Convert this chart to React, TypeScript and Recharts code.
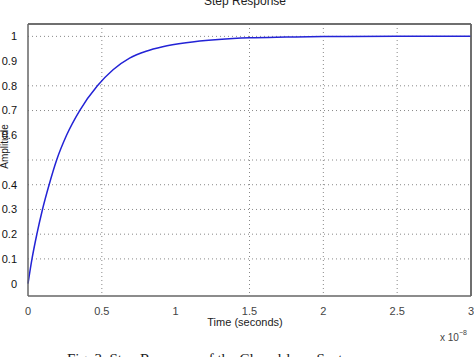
import { LineChart, Line, XAxis, YAxis, CartesianGrid, ReferenceLine } from "recharts";

const times = [0, 0.027, 0.06, 0.098, 0.143, 0.194, 0.261, 0.35, 0.47, 0.576, 0.688, 0.8, 0.912, 1.07, 1.29, 1.5, 1.75, 2, 2.5, 3];
const amplitude = [0, 0.1, 0.2, 0.3, 0.4, 0.5, 0.6, 0.7, 0.8, 0.865, 0.912, 0.94, 0.958, 0.974, 0.987, 0.994, 0.997, 0.999, 1, 1];

const xTicks = [0, 0.5, 1, 1.5, 2, 2.5, 3];
const yTicks = [0, 0.1, 0.2, 0.3, 0.4, 0.5, 0.6, 0.7, 0.8, 0.9, 1];
// grid lines that survive in the scanned figure
const xGrid = [0.5, 1.5, 2, 2.5];
const yGrid = [0.1, 0.2, 0.3, 0.4, 0.5, 0.7, 0.8, 1];
const hiddenYLabels = [0.5];
const xDomain = [0, 3];
const yDomain = [-0.05, 1.05];

const data = times.map((t, i) => ({ t, y: amplitude[i] }));

const FONT = "'Liberation Sans', Arial, Helvetica, sans-serif";
const AXIS = "#666";

export default function App() {
  return (
    <div
      style={{
        position: "absolute",
        left: 0,
        top: 0,
        width: 474,
        height: 357,
        background: "#fff",
        overflow: "hidden",
        fontFamily: FONT,
      }}
    >
      <LineChart
        width={474}
        height={357}
        data={data}
        margin={{ top: 24, right: 3, left: 0, bottom: 0 }}
      >
        <CartesianGrid
          stroke="#888"
          strokeDasharray="1 3"
          horizontalValues={yGrid}
          verticalValues={xGrid}
        />
        <XAxis
          dataKey="t"
          type="number"
          domain={xDomain}
          ticks={xTicks}
          height={61}
          tickLine={false}
          tickMargin={5}
          axisLine={{ stroke: AXIS, strokeWidth: 1.5 }}
          tick={{ fill: "#444", fontSize: 11, fontFamily: FONT }}
        />
        <XAxis
          xAxisId="top"
          dataKey="t"
          type="number"
          orientation="top"
          domain={xDomain}
          ticks={xTicks}
          height={1}
          mirror
          tick={false}
          tickSize={4}
          tickLine={{ stroke: AXIS }}
          axisLine={{ stroke: AXIS, strokeWidth: 1.5 }}
        />
        <YAxis
          type="number"
          domain={yDomain}
          ticks={yTicks}
          width={28}
          tickLine={false}
          tickMargin={5}
          axisLine={{ stroke: AXIS, strokeWidth: 1.5 }}
          tick={{ fill: "#111", fontSize: 11, fontFamily: FONT }}
          tickFormatter={(v: number) => (hiddenYLabels.includes(v) ? "" : String(v))}
        />
        <YAxis
          yAxisId="right"
          orientation="right"
          type="number"
          domain={yDomain}
          ticks={yTicks}
          width={1}
          mirror
          tick={false}
          tickSize={4}
          tickLine={{ stroke: AXIS }}
          axisLine={{ stroke: AXIS, strokeWidth: 1.5 }}
        />
        {/* axes box */}
        <ReferenceLine x={xDomain[1]} stroke={AXIS} strokeWidth={1.5} />
        <ReferenceLine y={yDomain[1]} stroke={AXIS} strokeWidth={1.5} />
        <Line
          dataKey="y"
          type="monotone"
          stroke="#2323d6"
          strokeWidth={1.5}
          dot={false}
          isAnimationActive={false}
        />
      </LineChart>

      {/* title, cut off by the crop */}
      <div
        style={{
          position: "absolute",
          left: 0,
          width: 490,
          top: -5,
          textAlign: "center",
          fontSize: 12,
          lineHeight: "12px",
          color: "#222",
        }}
      >
        Step Response
      </div>

      {/* y label */}
      <div
        style={{
          position: "absolute",
          left: -24,
          top: 141,
          width: 56,
          textAlign: "center",
          transform: "rotate(-90deg)",
          fontSize: 10,
          lineHeight: "11px",
          color: "#222",
        }}
      >
        Amplitude
      </div>

      {/* x label */}
      <div
        style={{
          position: "absolute",
          left: 150,
          width: 190,
          top: 316,
          textAlign: "center",
          fontSize: 11,
          lineHeight: "12px",
          color: "#222",
        }}
      >
        Time (seconds)
      </div>

      {/* exponent */}
      <div
        style={{
          position: "absolute",
          left: 440,
          top: 327,
          fontSize: 10,
          lineHeight: "11px",
          color: "#444",
          whiteSpace: "nowrap",
        }}
      >
        x 10<sup style={{ fontSize: 7, verticalAlign: "6px" }}>−8</sup>
      </div>

      {/* figure caption, cut off by the crop */}
      <div
        style={{
          position: "absolute",
          left: 67,
          top: 351,
          fontSize: 15,
          lineHeight: "16px",
          fontFamily: "'Liberation Serif', 'Times New Roman', serif",
          color: "#222",
          whiteSpace: "nowrap",
        }}
      >
        Fig. 3. Step Response of the Closed-loop System
      </div>
    </div>
  );
}
